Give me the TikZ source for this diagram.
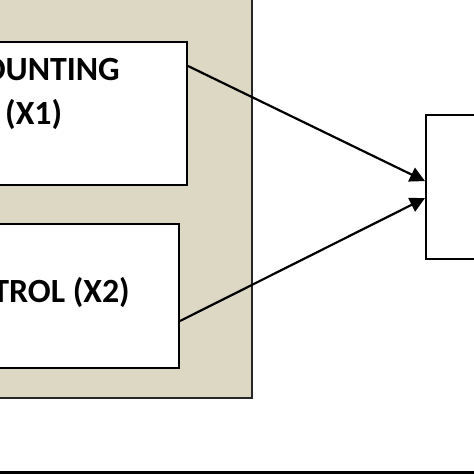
\documentclass[tikz,border=0pt]{standalone}
\usepackage{fontspec}
\setmainfont{Carlito}
\usetikzlibrary{arrows.meta,calc}
\definecolor{panelbeige}{RGB}{220,216,196}
\tikzset{
  boxstyle/.style={draw=black, fill=white, line width=2.2bp, inner sep=0pt},
  lbl/.style={font=\bfseries\fontsize{34}{38}\selectfont, inner sep=0pt, text=black},
  conn/.style={line width=2.2bp, -{Triangle[length=15bp,width=15bp]}}
}
\begin{document}
\begin{tikzpicture}[x=1bp,y=-1bp]
\useasboundingbox (0,0) rectangle (474,474);
\fill[white] (0,0) rectangle (474,474);
% beige panel
\node[draw=black!85, fill=panelbeige, line width=2.2bp, inner sep=0pt, minimum width=280bp, minimum height=420bp, anchor=south east] (panel) at (253,399) {};
% boxes
\node[boxstyle, minimum width=230bp, minimum height=143bp, anchor=north east] (b1) at (188,41) {};
\node[boxstyle, minimum width=220bp, minimum height=144bp, anchor=north east] (b2) at (180,223) {};
\node[boxstyle, minimum width=80bp, minimum height=144bp, anchor=north west] (r) at (425,114) {};
% labels
\node[lbl, anchor=base east] (t1) at (120,81) {ACCOUNTING};
\node[lbl, anchor=base west] (t2) at (5,125) {(X1)};
\node[lbl, anchor=base east] (t3) at (130,302) {CONTROL (X2)};
% connectors
\coordinate (s1) at ($(b1.north east)+(0,25)$);
\coordinate (s2) at ($(b2.north east)+(0,98)$);
\draw[conn] (s1) -- ($(r.west)+(0,-6)$);
\draw[conn] (s2) -- ($(r.west)+(0,11)$);
% bottom rule
\draw[line width=4bp] (0,472.5) -- (474,472.5);
\end{tikzpicture}
\end{document}
